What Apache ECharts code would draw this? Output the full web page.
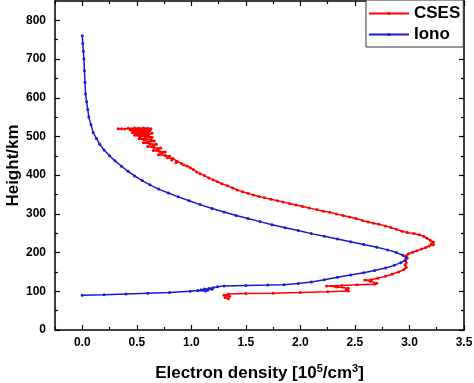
<!DOCTYPE html>
<html>
<head>
<meta charset="utf-8">
<script src="https://cdn.jsdelivr.net/npm/echarts@6/dist/echarts.min.js"></script>
<style>html,body{margin:0;padding:0;background:#fff;}#c{width:474px;height:383px;}</style>
</head>
<body>
<div id="c"></div>
<script>
// ---- data ----
const xMajorTicks = [0, 0.5, 1.0, 1.5, 2.0, 2.5, 3.0, 3.5];
const xMinorTicks = [-0.25, 0.25, 0.75, 1.25, 1.75, 2.25, 2.75, 3.25];
const yMajorTicks = [0, 100, 200, 300, 400, 500, 600, 700, 800];
const yMinorTicks = [50, 150, 250, 350, 450, 550, 650, 750];

const csesDensity = [0.33,0.36,0.39,0.42,0.45,0.48,0.52,0.56,0.60,0.63,0.58,0.50,0.44,0.47,0.55,0.62,0.60,0.52,0.46,0.50,0.57,0.64,
  0.61,0.54,0.48,0.53,0.60,0.64,0.58,0.52,0.57,0.63,0.66,0.60,0.56,0.62,0.68,0.65,0.60,0.66,0.72,0.69,0.65,0.71,0.76,0.73,0.70,0.76,
  0.80,0.78,0.83,0.82,0.87,0.86,0.91,0.93,0.96,0.99,1.02,1.05,1.08,1.12,1.16,1.20,1.24,1.28,1.33,1.38,1.42,
  1.47,1.52,1.57,1.62,1.67,1.73,1.79,1.84,1.90,1.96,2.02,2.08,2.15,2.21,2.27,2.33,2.39,2.45,2.51,2.57,2.62,2.67,2.72,2.78,2.83,2.88,2.93,2.98,
  3.04,3.09,3.13,3.16,3.19,3.22,3.20,3.22,3.18,3.15,3.11,3.07,3.03,2.99,2.97,2.98,2.96,2.97,2.96,2.97,2.95,2.90,2.84,2.78,2.71,2.65,2.59,2.64,
  2.70,2.68,2.52,2.38,2.24,2.33,2.44,2.42,2.44,2.25,2.00,1.75,1.50,1.34,1.30,1.35,1.31,1.34];
const csesHeight = [520,520,519,521,520,522,521,522,521,520,518,519,517,514,516,515,512,512,510,507,509,508,
  505,504,503,500,501,498,496,494,491,492,488,486,484,481,480,476,474,471,470,466,464,461,460,456,453,451,
  449,445,443,439,436,432,430,426,424,419,414,408,404,399,393,388,383,378,373,367,362,
  357,353,349,345,342,338,334,331,327,323,319,315,311,307,304,300,296,292,288,283,279,276,273,269,265,260,255,252,
  249,246,242,237,232,227,223,220,217,213,209,205,201,197,192,186,180,174,168,162,156,150,144,139,134,130,129,126,
  121,118,117,115,114,111,108,104,101,99,97,95,94,93,90,87,84,81];

const ionoDensity = [0.00,0.005,0.01,0.015,0.02,0.025,0.03,0.04,0.05,0.06,0.08,0.10,0.13,0.16,0.20,0.25,0.30,0.36,0.42,0.48,0.55,0.62,0.70,
  0.79,0.88,0.98,1.08,1.19,1.30,1.41,1.52,1.63,1.74,1.86,1.98,2.10,2.22,2.34,2.46,2.58,2.70,2.80,2.88,2.94,2.97,2.96,2.92,2.86,2.78,2.68,
  2.58,2.46,2.34,2.22,2.10,1.98,1.85,1.70,1.50,1.30,1.24,1.20,1.16,1.19,1.12,1.15,1.09,1.13,1.06,0.99,0.80,0.60,0.40,0.20,0.00];
const ionoHeight = [760,740,720,700,670,640,610,590,570,550,530,510,495,480,465,450,437,423,410,398,386,375,364,
  354,344,334,324,314,305,296,288,280,272,264,257,249,242,235,228,221,214,207,200,193,186,180,174,167,160,154,
  148,142,136,130,124,120,117,116,115,114,112,109,107,105,106,103,104,101,102,100,97,95,93,91,90];

const seriesNames = ['CSES', 'Iono'];
const seriesColors = ['#ff0000', '#1a1ad0'];

// ---- chart ----
const zip = (a, b) => a.map((v, i) => [v, b[i]]);
const FONT = 'Liberation Sans, Arial, sans-serif';
const chart = echarts.init(document.getElementById('c'), null, {renderer: 'canvas'});

const xBase = {type: 'value', min: -0.25, max: 3.5, splitLine: {show: false}, gridIndex: 0};
const yBase = {type: 'value', min: 0, max: 850, splitLine: {show: false}, gridIndex: 0};
const line = {show: true, onZero: false, lineStyle: {color: '#000', width: 1.5}};
const noLine = {show: false, onZero: false};

chart.setOption({
  animation: false,
  grid: {left: 55, right: 10, top: 1, bottom: 53, containLabel: false, outerBoundsMode: 'none'},
  legend: {
    data: seriesNames,
    orient: 'vertical',
    left: 366, top: 0,
    padding: [5, 3, 4, 2],
    itemGap: 4,
    itemWidth: 40, itemHeight: 4,
    backgroundColor: '#fff',
    borderColor: '#333', borderWidth: 1,
    textStyle: {fontFamily: FONT, fontSize: 17, fontWeight: 'bold', color: '#000', lineHeight: 17}
  },
  xAxis: [
    Object.assign({}, xBase, {
      position: 'bottom', axisLine: line,
      axisTick: {inside: true, length: 5, customValues: xMajorTicks, lineStyle: {color: '#000', width: 1.2}},
      axisLabel: {customValues: xMajorTicks, margin: 7, formatter: v => v.toFixed(1),
        fontFamily: FONT, fontSize: 12, fontWeight: 'bold', color: '#000'},
      name: '{a|Electron density [10}{s|5}{a|/cm}{s|3}{a|]}',
      nameLocation: 'middle', nameGap: 33,
      nameTextStyle: {rich: {
        a: {fontFamily: FONT, fontSize: 17, fontWeight: 'bold', color: '#000'},
        s: {fontFamily: FONT, fontSize: 11, fontWeight: 'bold', color: '#000', padding: [0, 0, 9, 0]}
      }}
    }),
    Object.assign({}, xBase, {
      position: 'bottom', axisLine: noLine,
      axisTick: {inside: true, length: 3, customValues: xMinorTicks, lineStyle: {color: '#000', width: 1.2}},
      axisLabel: {show: false}
    }),
    Object.assign({}, xBase, {
      position: 'top', axisLine: line,
      axisTick: {inside: true, length: 5, customValues: xMajorTicks, lineStyle: {color: '#000', width: 1.2}},
      axisLabel: {show: false}
    }),
    Object.assign({}, xBase, {
      position: 'top', axisLine: noLine,
      axisTick: {inside: true, length: 3, customValues: xMinorTicks, lineStyle: {color: '#000', width: 1.2}},
      axisLabel: {show: false}
    })
  ],
  yAxis: [
    Object.assign({}, yBase, {
      position: 'left', axisLine: line,
      axisTick: {inside: true, length: 5, customValues: yMajorTicks, lineStyle: {color: '#000', width: 1.2}},
      axisLabel: {customValues: yMajorTicks, margin: 9,
        fontFamily: FONT, fontSize: 12, fontWeight: 'bold', color: '#000'},
      name: 'Height/km', nameLocation: 'middle', nameGap: 33, nameMoveOverlap: false,
      nameTextStyle: {fontFamily: FONT, fontSize: 17, fontWeight: 'bold', color: '#000'}
    }),
    Object.assign({}, yBase, {
      position: 'left', axisLine: noLine,
      axisTick: {inside: true, length: 3, customValues: yMinorTicks, lineStyle: {color: '#000', width: 1.2}},
      axisLabel: {show: false}
    }),
    Object.assign({}, yBase, {
      position: 'right', axisLine: line,
      axisTick: {inside: true, length: 5, customValues: yMajorTicks, lineStyle: {color: '#000', width: 1.2}},
      axisLabel: {show: false}
    }),
    Object.assign({}, yBase, {
      position: 'right', axisLine: noLine,
      axisTick: {inside: true, length: 3, customValues: yMinorTicks, lineStyle: {color: '#000', width: 1.2}},
      axisLabel: {show: false}
    })
  ],
  series: [
    {name: seriesNames[0], type: 'line', xAxisIndex: 0, yAxisIndex: 0,
     data: zip(csesDensity, csesHeight), color: seriesColors[0],
     symbol: 'circle', symbolSize: 3, showAllSymbol: true,
     lineStyle: {width: 1.5}, itemStyle: {color: seriesColors[0]}},
    {name: seriesNames[1], type: 'line', xAxisIndex: 0, yAxisIndex: 0,
     data: zip(ionoDensity, ionoHeight), color: seriesColors[1],
     symbol: 'circle', symbolSize: 3, showAllSymbol: true,
     lineStyle: {width: 1.5}, itemStyle: {color: seriesColors[1]}}
  ]
});
</script>
</body>
</html>
